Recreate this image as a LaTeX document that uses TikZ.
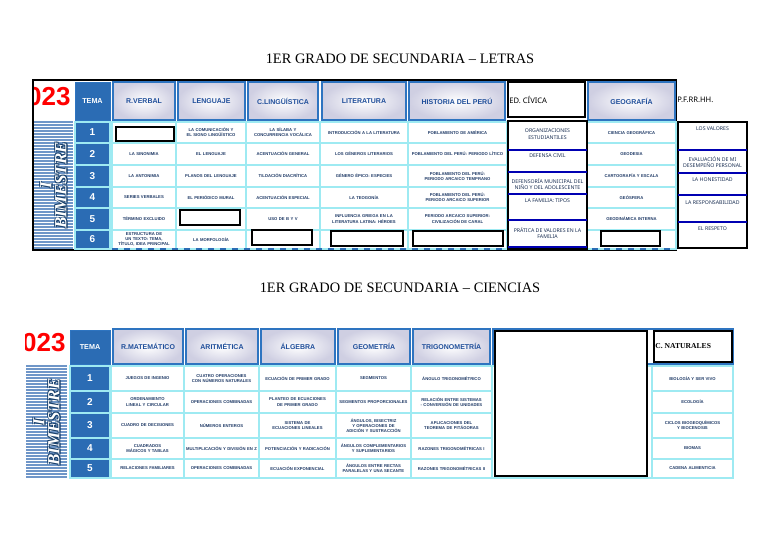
\documentclass[tikz,border=0pt]{standalone}
\usepackage{fontspec}
\setmainfont{Liberation Serif}
\newfontfamily\cellf{Liberation Sans}
\newfontfamily\notof{Noto Sans}
\hyphenpenalty=10000 \exhyphenpenalty=10000 \lefthyphenmin=62
\definecolor{navy}{HTML}{1F3A66}
\definecolor{hblue}{HTML}{2E74C0}
\definecolor{hdrtxt}{HTML}{1F4E9A}
\definecolor{cyanl}{HTML}{9EEAF2}
\definecolor{numblue}{HTML}{2B6CB4}
\definecolor{stripe}{HTML}{6F96C8}
\tikzset{
  x=0.5pt,y=-0.5pt,
  cellsty/.style={draw=cyanl,line width=0.8pt,fill=white},
  celltext/.style={font=\cellf\bfseries\fontsize{2.1}{2.6}\selectfont,text=navy,align=center,inner sep=0pt},
  hdrsty/.style={draw=hblue,line width=1.2pt,inner color=white,outer color=blue!25!gray!30},
  hdrtext/.style={font=\cellf\bfseries\fontsize{3.5}{4}\selectfont,text=hdrtxt},
  numsty/.style={fill=numblue,draw=cyanl,line width=0.6pt},
  blank/.style={draw=black,line width=0.6pt,fill=white},
  civ/.style={font=\notof\fontsize{2.6}{3.3}\selectfont,text=navy!80!black,align=center,inner sep=0pt},
  bim/.style={rotate=90,font=\bfseries\itshape\fontsize{8.5}{7.5}\selectfont,align=center,inner sep=0pt},
}
\newcommand\cellt[5]{\pgfmathsetmacro\tw{(#3-#1)*0.5-2}\draw[cellsty] (#1,#2) rectangle (#3,#4);
  \node[celltext,text width=\tw pt] at ({(#1+#3)/2},{(#2+#4)/2}) {#5};}
\newcommand\hdr[5]{\draw[hdrsty] (#1,#2) rectangle (#3,#4);
  \node[hdrtext] at ({(#1+#3)/2},{(#2+#4)/2}) {#5};}
\newcommand\numc[5]{\draw[numsty] (#1,#2) rectangle (#3,#4);
  \node[font=\cellf\bfseries\fontsize{5}{5}\selectfont,text=white] at ({(#1+#3)/2},{(#2+#4)/2}) {#5};}
\newcommand\bimes[4]{\fill[white] (#1,#2) rectangle (#3,#4);
  \pgfmathtruncatemacro\ys{#2+3}
  \foreach \yy in {#2,\ys,...,#4} \draw[stripe,line width=0.6pt] (#1,\yy) -- (#3,\yy);
  \foreach \dx/\dy in {1/1,-0.8/0.8,0.8/-0.8,-0.8/-0.8,1.2/0}
    \node[bim,text=numblue!60!black] at ({(#1+#3)/2+\dx},{(#2+#4)/2+\dy}) {I\\BIMESTRE};
  \node[bim,text=white] at ({(#1+#3)/2},{(#2+#4)/2}) {I\\BIMESTRE};}
\begin{document}
\hyphenpenalty=10000 \exhyphenpenalty=10000 \lefthyphenmin=62
\begin{tikzpicture}
\useasboundingbox (0,0) rectangle (768,543);
\fill[white] (0,0) rectangle (768,543);
\node[font=\fontsize{7.2}{8}\selectfont] (t1) at (400,59) {1ER GRADO DE SECUNDARIA – LETRAS};
\node[font=\fontsize{7.2}{8}\selectfont] (t2) at (400,288) {1ER GRADO DE SECUNDARIA – CIENCIAS};
% ===== top table
\begin{scope}
\clip (33,80) rectangle (74,120);
\node[font=\cellf\bfseries\fontsize{13}{13}\selectfont,text=red,anchor=east,inner sep=0pt] at (71,97) {2023};
\end{scope}
\draw[black,line width=0.6pt] (33,80) rectangle (676,250);
\draw[fill=numblue,draw=hblue] (75,82) rectangle (110,120);
\node[font=\cellf\bfseries\fontsize{3.6}{4}\selectfont,text=white] at (92.5,101) {TEMA};
\hdr{113}{82}{175}{120}{R.VERBAL}
\hdr{178}{82}{245}{120}{LENGUAJE}
\hdr{248}{82}{318}{120}{C.LINGÜÍSTICA}
\hdr{322}{82}{406}{120}{LITERATURA}
\hdr{409}{82}{505}{120}{HISTORIA DEL PERÚ}
\hdr{588}{82}{675}{120}{GEOGRAFÍA}
\draw[black,line width=0.7pt,fill=white] (508,82) rectangle (585,117);
\node[font=\notof\bfseries\fontsize{3.8}{4}\selectfont,anchor=west,inner sep=0pt] at (509,100) {ED. CÍVICA};
\node[font=\notof\bfseries\fontsize{3.8}{4}\selectfont,anchor=west,inner sep=0pt] at (677,100) {P.F.RR.HH.};
\bimes{34}{122}{73}{249}
\foreach \n/\a/\b in {1/122/143,2/143/165,3/165/187,4/187/208,5/208/230,6/230/249}
  \numc{75}{\a}{110}{\b}{\n};
% columns
\cellt{112}{122}{176}{143}{}
\cellt{112}{143}{176}{165}{LA SINONIMIA}
\cellt{112}{165}{176}{187}{LA ANTONIMIA}
\cellt{112}{187}{176}{208}{SERIES VERBALES}
\cellt{112}{208}{176}{230}{TÉRMINO EXCLUIDO}
\cellt{112}{230}{176}{249}{ESTRUCTURA DE UN TEXTO: TEMA, TÍTULO, IDEA PRINCIPAL}
\cellt{176}{122}{246}{143}{LA COMUNICACIÓN Y EL SIGNO LINGÜÍSTICO}
\cellt{176}{143}{246}{165}{EL LENGUAJE}
\cellt{176}{165}{246}{187}{PLANOS DEL LENGUAJE}
\cellt{176}{187}{246}{208}{EL PERIÓDICO MURAL}
\cellt{176}{208}{246}{230}{}
\cellt{176}{230}{246}{249}{LA MORFOLOGÍA}
\cellt{246}{122}{320}{143}{LA SÍLABA Y CONCURRENCIA VOCÁLICA}
\cellt{246}{143}{320}{165}{ACENTUACIÓN GENERAL}
\cellt{246}{165}{320}{187}{TILDACIÓN DIACRÍTICA}
\cellt{246}{187}{320}{208}{ACENTUACIÓN ESPECIAL}
\cellt{246}{208}{320}{230}{USO DE B Y V}
\cellt{246}{230}{320}{249}{}
\cellt{320}{122}{408}{143}{INTRODUCCIÓN A LA LITERATURA}
\cellt{320}{143}{408}{165}{LOS GÉNEROS LITERARIOS}
\cellt{320}{165}{408}{187}{GÉNERO ÉPICO: ESPECIES}
\cellt{320}{187}{408}{208}{LA TEOGONÍA}
\cellt{320}{208}{408}{230}{INFLUENCIA GRIEGA EN LA LITERATURA LATINA: HÉROES}
\cellt{320}{230}{408}{249}{}
\cellt{408}{122}{507}{143}{POBLAMIENTO DE AMÉRICA}
\cellt{408}{143}{507}{165}{POBLAMIENTO DEL PERÚ: PERIODO LÍTICO}
\cellt{408}{165}{507}{187}{POBLAMIENTO DEL PERÚ: PERIODO ARCAICO TEMPRANO}
\cellt{408}{187}{507}{208}{POBLAMIENTO DEL PERÚ: PERIODO ARCAICO SUPERIOR}
\cellt{408}{208}{507}{230}{PERIODO ARCAICO SUPERIOR: CIVILIZACIÓN DE CARAL}
\cellt{408}{230}{507}{249}{}
\cellt{587}{122}{676}{143}{CIENCIA GEOGRÁFICA}
\cellt{587}{143}{676}{165}{GEODESIA}
\cellt{587}{165}{676}{187}{CARTOGRAFÍA Y ESCALA}
\cellt{587}{187}{676}{208}{GEÓSFERA}
\cellt{587}{208}{676}{230}{GEODINÁMICA INTERNA}
\cellt{587}{230}{676}{249}{}
\draw[blank] (116,127) rectangle (174,141);
\draw[blank] (180,210) rectangle (240,225);
\draw[blank] (252,230) rectangle (312,245);
\draw[blank] (331,231) rectangle (403,246);
\draw[blank] (413,231) rectangle (503,246);
\draw[blank] (601,231) rectangle (660,246);
\draw[dashed,numblue,line width=0.8pt] (112,249) -- (676,249);
% ED. CIVICA
\draw[black,line width=0.6pt,fill=white] (508,121) rectangle (587,249);
\foreach \yy in {150,172,194,220,247} \draw[blue!70!black,line width=0.8pt] (508,\yy) -- (587,\yy);
\node[civ] at (547.5,134) {ORGANIZACIONES\\ESTUDIANTILES};
\node[civ] at (547.5,156) {DEFENSA CIVIL};
\node[civ] at (547.5,184) {DEFENSORÍA MUNICIPAL DEL\\NIÑO Y DEL ADOLESCENTE};
\node[civ] at (547.5,201) {LA FAMILIA: TIPOS};
\node[civ] at (547.5,233) {PRÁTICA DE VALORES EN LA\\FAMILIA};
% PFRRHH
\draw[black,line width=0.6pt,fill=white] (678,122) rectangle (747,248);
\foreach \yy in {150,173,195,222} \draw[blue!70!black,line width=0.8pt] (678,\yy) -- (747,\yy);
\node[civ] at (712.5,129) {LOS VALORES};
\node[civ] at (712.5,162) {EVALUACIÓN DE MI\\DESEMPEÑO PERSONAL};
\node[civ] at (712.5,180) {LA HONESTIDAD};
\node[civ] at (712.5,203) {LA RESPONSABILIDAD};
\node[civ] at (712.5,229) {EL RESPETO};
% ===== bottom table
\begin{scope}
\clip (25,328) rectangle (68,364);
\node[font=\cellf\bfseries\fontsize{13}{13}\selectfont,text=red,anchor=east,inner sep=0pt] at (66,343) {2023};
\end{scope}
\draw[fill=numblue,draw=hblue] (70,330) rectangle (110,364);
\node[font=\cellf\bfseries\fontsize{3.6}{4}\selectfont,text=white] at (90,347) {TEMA};
\hdr{113}{329}{183}{364}{R.MATEMÁTICO}
\hdr{186}{329}{258}{364}{ARITMÉTICA}
\hdr{261}{329}{335}{364}{ÁLGEBRA}
\hdr{338}{329}{410}{364}{GEOMETRÍA}
\hdr{413}{329}{490}{364}{TRIGONOMETRÍA}
\draw[hblue,line width=1.2pt] (493,329) rectangle (733,364);
\draw[black,line width=0.7pt,fill=white] (654,331) rectangle (732,362);
\node[font=\bfseries\fontsize{3.8}{4}\selectfont,anchor=west,inner sep=0pt] at (655,346) {C. NATURALES};
\bimes{26}{366}{67}{478}
\foreach \n/\a/\b in {1/366/391,2/391/413,3/413/438,4/438/459,5/459/478}
  \numc{70}{\a}{110}{\b}{\n};
\cellt{111}{366}{184}{391}{JUEGOS DE INGENIO}
\cellt{111}{391}{184}{413}{ORDENAMIENTO LINEAL Y CIRCULAR}
\cellt{111}{413}{184}{438}{CUADRO DE DECISIONES}
\cellt{111}{438}{184}{459}{CUADRADOS MÁGICOS Y TABLAS}
\cellt{111}{459}{184}{478}{RELACIONES FAMILIARES}
\cellt{184}{366}{259}{391}{CUATRO OPERACIONES CON NÚMEROS NATURALES}
\cellt{184}{391}{259}{413}{OPERACIONES COMBINADAS}
\cellt{184}{413}{259}{438}{NÚMEROS ENTEROS}
\cellt{184}{438}{259}{459}{MULTIPLICACIÓN Y DIVISIÓN EN Z}
\cellt{184}{459}{259}{478}{OPERACIONES COMBINADAS}
\cellt{259}{366}{336}{391}{ECUACIÓN DE PRIMER GRADO}
\cellt{259}{391}{336}{413}{PLANTEO DE ECUACIONES DE PRIMER GRADO}
\cellt{259}{413}{336}{438}{SISTEMA DE ECUACIONES LINEALES}
\cellt{259}{438}{336}{459}{POTENCIACIÓN Y RADICACIÓN}
\cellt{259}{459}{336}{478}{ECUACIÓN EXPONENCIAL}
\cellt{336}{366}{411}{391}{SEGMENTOS}
\cellt{336}{391}{411}{413}{SEGMENTOS PROPORCIONALES}
\cellt{336}{413}{411}{438}{ÁNGULOS, BISECTRIZ Y OPERACIONES DE ADICIÓN Y SUSTRACCIÓN}
\cellt{336}{438}{411}{459}{ÁNGULOS COMPLEMENTARIOS Y SUPLEMENTARIOS}
\cellt{336}{459}{411}{478}{ÁNGULOS ENTRE RECTAS PARALELAS Y UNA SECANTE}
\cellt{411}{366}{492}{391}{ÁNGULO TRIGONOMÉTRICO}
\cellt{411}{391}{492}{413}{RELACIÓN ENTRE SISTEMAS - CONVERSIÓN DE UNIDADES}
\cellt{411}{413}{492}{438}{APLICACIONES DEL TEOREMA DE PITÁGORAS}
\cellt{411}{438}{492}{459}{RAZONES TRIGONOMÉTRICAS I}
\cellt{411}{459}{492}{478}{RAZONES TRIGONOMÉTRICAS II}
\cellt{492}{366}{652}{478}{}
\cellt{652}{366}{733}{391}{BIOLOGÍA Y SER VIVO}
\cellt{652}{391}{733}{413}{ECOLOGÍA}
\cellt{652}{413}{733}{438}{CICLOS BIOGEOQUÍMICOS Y BIOCENOSIS}
\cellt{652}{438}{733}{459}{BIOMAS}
\cellt{652}{459}{733}{478}{CADENA ALIMENTICIA}
\draw[black,line width=0.6pt,fill=white] (495,331) rectangle (647,476);
\end{tikzpicture}
\end{document}
